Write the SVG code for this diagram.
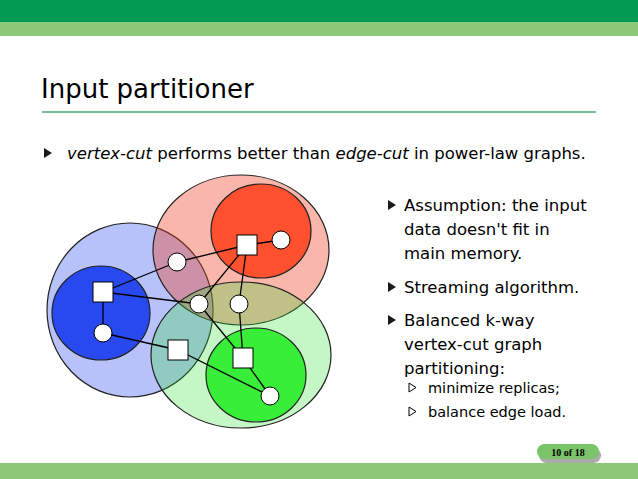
<svg xmlns="http://www.w3.org/2000/svg" width="638" height="479" viewBox="0 0 638 479">
<style>
.t{font-family:"DejaVu Sans",sans-serif;fill:#000}
.e{stroke:#222;stroke-width:1.2}
.n{fill:#fff;stroke:#000;stroke-width:1}
.c line{stroke:#000;stroke-width:1.3}
.b{fill:#1a1a1a}
</style>
<rect width="638" height="479" fill="#fff"/>
<rect x="0" y="0" width="638" height="22" fill="#009a52"/>
<rect x="0" y="22" width="638" height="14" fill="#8cc878"/>
<rect x="0" y="463" width="638" height="16" fill="#8cc878"/>
<text class="t" x="41" y="98" font-size="26" font-family="DejaVu Sans Condensed">Input partitioner</text>
<line x1="42" y1="112" x2="596" y2="112" stroke="#4aa87a" stroke-width="1.5"/>
<g font-size="16.5" class="t">
<polygon class="b" points="44,148 44,158 52,153"/>
<text class="t" x="67" y="159" font-size="16.5"><tspan font-style="italic">vertex-cut</tspan> performs better than <tspan font-style="italic">edge-cut</tspan> in power-law graphs.</text>
<polygon class="b" points="388,200 388,210 396,205"/>
<text class="t" x="404" y="211" font-size="16.5">Assumption: the input</text>
<text class="t" x="404" y="235" font-size="16.5">data doesn't fit in</text>
<text class="t" x="404" y="259" font-size="16.5">main memory.</text>
<polygon class="b" points="388,282 388,292 396,287"/>
<text class="t" x="404" y="293" font-size="16.5">Streaming algorithm.</text>
<polygon class="b" points="388,315 388,325 396,320"/>
<text class="t" x="404" y="326" font-size="16.5">Balanced k-way</text>
<text class="t" x="404" y="350" font-size="16.5">vertex-cut graph</text>
<text class="t" x="404" y="374" font-size="16.5">partitioning:</text>
<polygon points="409,383 409,392 416,387.5" fill="none" stroke="#000"/>
<text class="t" x="428" y="393" font-size="14.5">minimize replicas;</text>
<polygon points="409,407 409,416 416,411.5" fill="none" stroke="#000"/>
<text class="t" x="428" y="417" font-size="14.5">balance edge load.</text>
</g>
<g id="badge">
<rect x="537" y="446" width="62" height="15" rx="7.5" fill="#555" opacity="0.5" transform="translate(2,2)"/>
<rect x="537" y="444" width="62" height="15" rx="7.5" fill="#7cc46a"/>
<text x="568" y="455.5" font-size="10" font-weight="bold" text-anchor="middle" font-family="Liberation Serif,serif">10 of 18</text>
</g>
<g id="partitions">
<ellipse id="p-blue" class="e" cx="130" cy="310" rx="83" ry="87" fill="#2040f0" fill-opacity="0.32"/>
<ellipse id="p-red" class="e" cx="241" cy="250" rx="88" ry="75" fill="#f04020" fill-opacity="0.38"/>
<ellipse id="p-green" class="e" cx="241" cy="355" rx="90" ry="73" fill="#30e030" fill-opacity="0.28"/>
<ellipse id="core-blue" class="e" cx="101" cy="313" rx="49" ry="47" fill="#2848f0"/>
<ellipse id="core-red" class="e" cx="261" cy="231" rx="50" ry="47" fill="#ff5030"/>
<ellipse id="core-green" class="e" cx="256" cy="375" rx="50" ry="47" fill="#38ee38"/>
</g>
<g id="edges" class="c">
<line x1="103" y1="292" x2="177" y2="262"/>
<line x1="177" y1="262" x2="247" y2="245"/>
<line x1="247" y1="245" x2="281" y2="240"/>
<line x1="247" y1="245" x2="199" y2="304"/>
<line x1="247" y1="245" x2="239" y2="304"/>
<line x1="103" y1="292" x2="199" y2="304"/>
<line x1="103" y1="292" x2="103" y2="333"/>
<line x1="103" y1="333" x2="178" y2="350"/>
<line x1="178" y1="350" x2="270" y2="396"/>
<line x1="199" y1="304" x2="243" y2="358"/>
<line x1="239" y1="304" x2="243" y2="358"/>
<line x1="243" y1="358" x2="270" y2="396"/>
</g>
<g id="n1"><rect class="n" x="237" y="235" width="20" height="20"/></g>
<g id="n2"><circle class="n" cx="281" cy="240" r="9"/></g>
<g id="n3"><circle class="n" cx="177" cy="262" r="9"/></g>
<g id="n4"><rect class="n" x="93" y="282" width="20" height="20"/></g>
<g id="n5"><circle class="n" cx="103" cy="333" r="9"/></g>
<g id="n6"><circle class="n" cx="199" cy="304" r="9"/></g>
<g id="n7"><circle class="n" cx="239" cy="304" r="9"/></g>
<g id="n8"><rect class="n" x="168" y="340" width="20" height="20"/></g>
<g id="n9"><rect class="n" x="233" y="348" width="20" height="20"/></g>
<g id="n10"><circle class="n" cx="270" cy="396" r="9"/></g>
</svg>
